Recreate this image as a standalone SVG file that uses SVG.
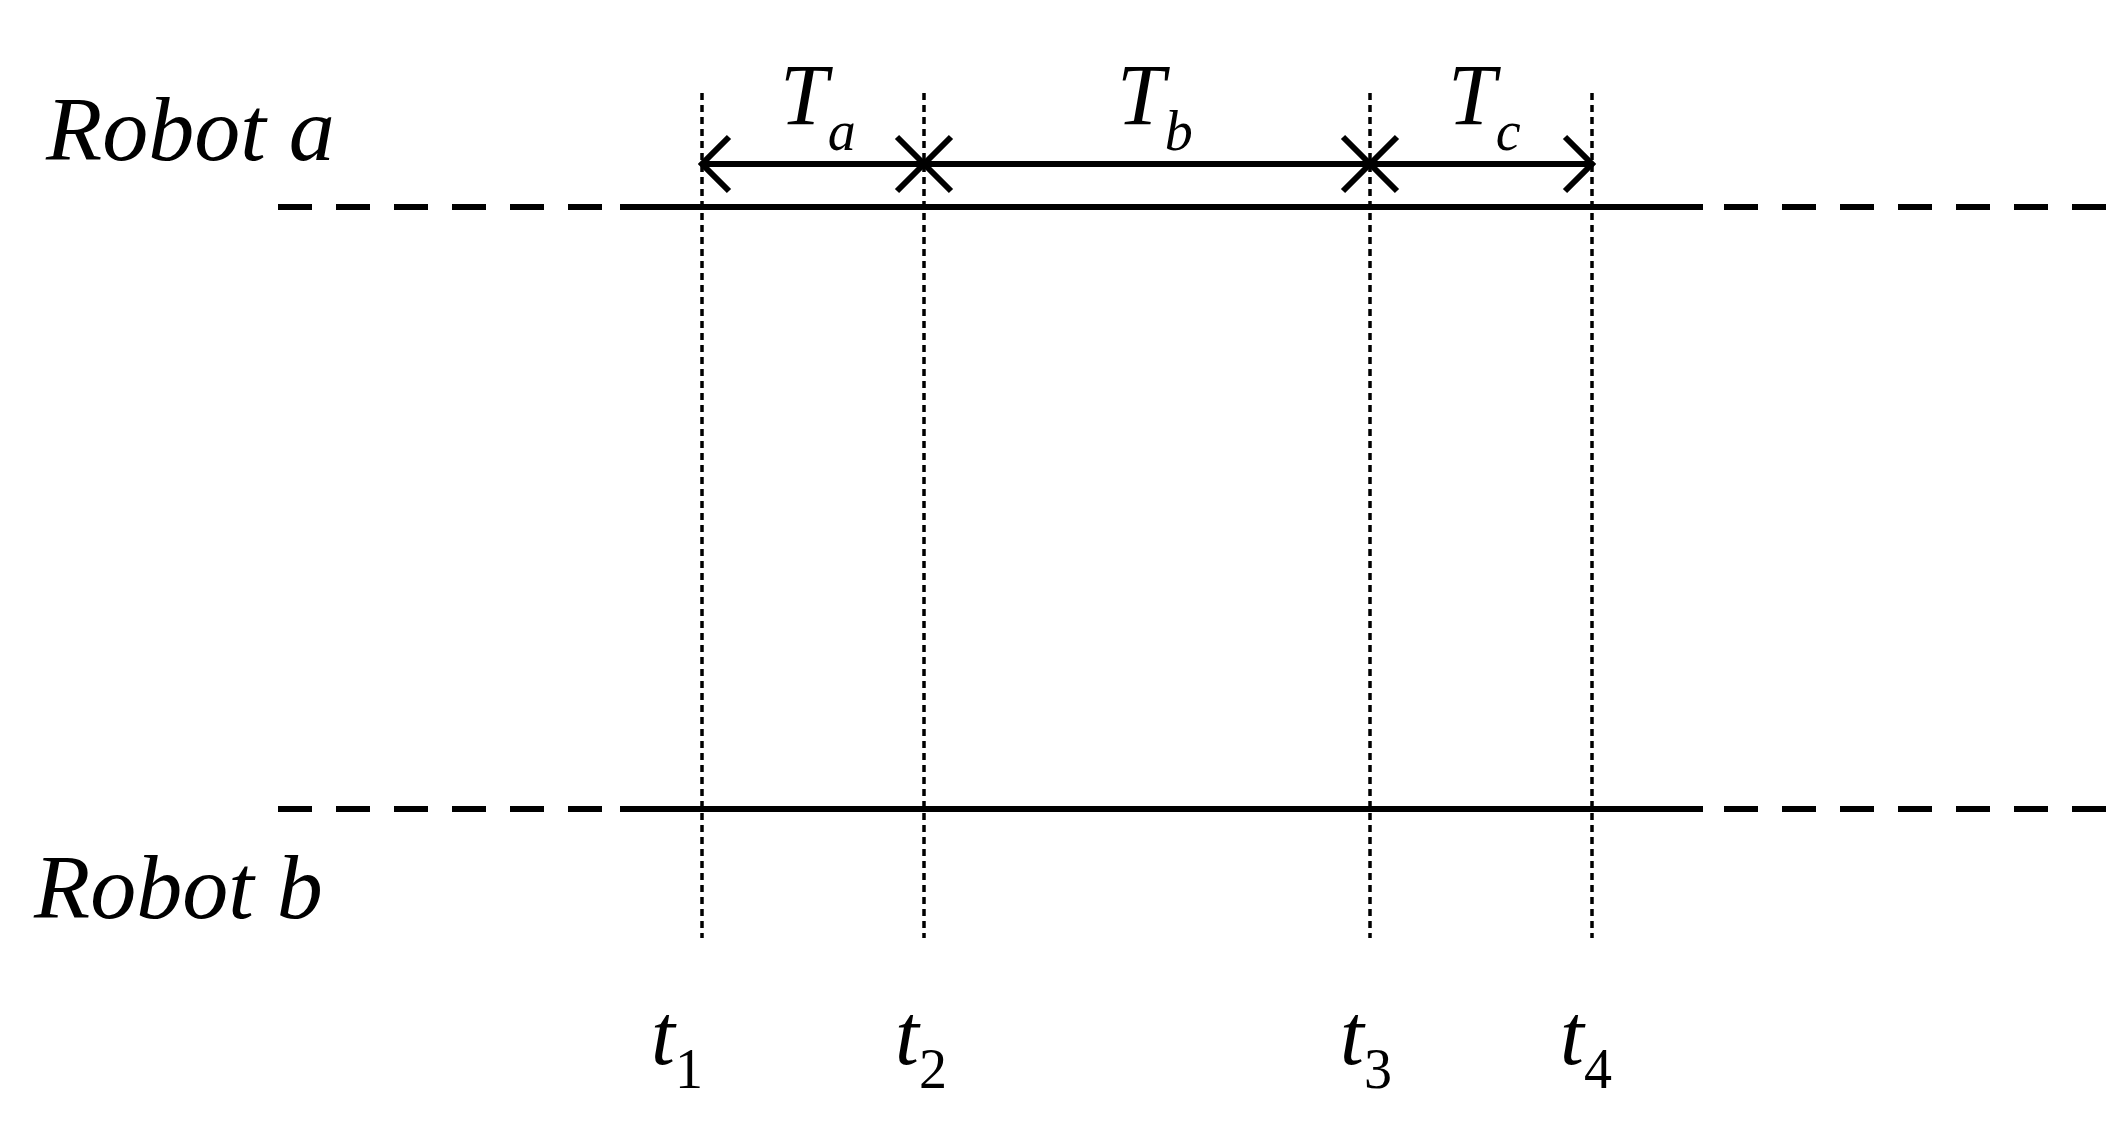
<svg xmlns="http://www.w3.org/2000/svg" width="2125" height="1122" viewBox="0 0 2125 1122">
<style>
.s{stroke:#000;stroke-width:6;fill:none}
.d{stroke:#000;stroke-width:6;stroke-dasharray:34 24;fill:none}
.v{stroke:#000;stroke-width:3.5;stroke-dasharray:7 5;fill:none}
text{font-family:"Liberation Serif",serif;font-style:italic;fill:#000}
.b{font-size:92px}.sub{font-size:56px}.m{font-size:86px}.n{font-style:normal}
</style>
<rect width="2125" height="1122" fill="#fff"/>
<g id="labels">
<text class="b" x="46" y="160">Robot a</text>
<text class="b" x="34" y="918">Robot b</text>
<text class="m" x="780" y="124">T<tspan class="sub" dy="26">a</tspan></text>
<text class="m" x="1117" y="124">T<tspan class="sub" dy="26">b</tspan></text>
<text class="m" x="1448" y="124">T<tspan class="sub" dy="26">c</tspan></text>
<text class="m" x="651" y="1064">t<tspan class="sub n" dy="24">1</tspan></text>
<text class="m" x="895" y="1064">t<tspan class="sub n" dy="24">2</tspan></text>
<text class="m" x="1340" y="1064">t<tspan class="sub n" dy="24">3</tspan></text>
<text class="m" x="1560" y="1064">t<tspan class="sub n" dy="24">4</tspan></text>
</g>
<g id="connectors">
<path class="d" d="M278 207H602M1724 207H2106M278 809H602M1724 809H2106"/>
<path class="s" d="M620 207H1703M620 809H1703"/>
<path class="v" d="M702 93V938M924 93V938M1370 93V938M1592 93V938"/>
<path class="s" d="M702 164H1592M729 137L702 164L729 191M1565 137L1592 164L1565 191M897 137L951 191M951 137L897 191M1343 137L1397 191M1397 137L1343 191"/>
</g>
</svg>
